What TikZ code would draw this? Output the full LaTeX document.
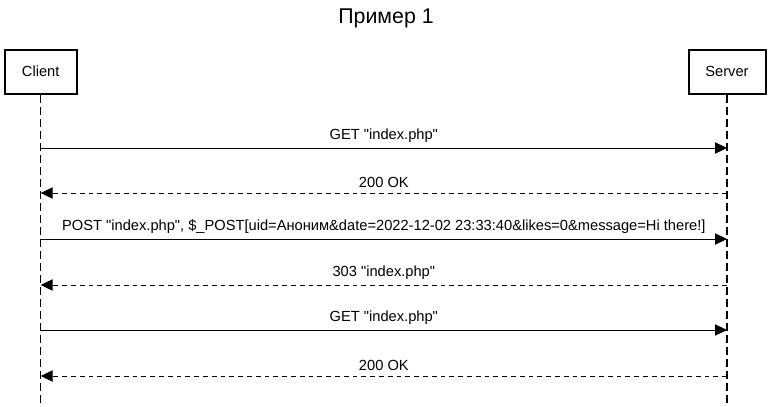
\documentclass[tikz,border=0pt]{standalone}
\usepackage{fontspec}
\setmainfont{Liberation Sans}[Ligatures=TeXOff]
\usepackage{tikz}
\usetikzlibrary{arrows.meta,positioning}
\tikzset{font=\fontsize{11}{13}\selectfont}
\newcommand{\qt}{\char"22\relax}
\tikzstyle{actor}=[draw,line width=1.5pt,minimum height=33pt,inner sep=0pt]
\tikzstyle{life}=[line width=1pt,dash pattern=on 6pt off 3pt]
\tikzstyle{call}=[line width=0.75pt,-{Triangle[length=9pt,width=8.5pt]}]
\tikzstyle{reply}=[call,dash pattern=on 3.6pt off 3pt]
\tikzstyle{msg}=[midway,above=3.4pt,inner sep=0pt]

\begin{document}
\begin{tikzpicture}[x=0.75pt,y=-0.75pt]
\useasboundingbox (0,0) rectangle (772,407);
\node (T) at (386,18) {\fontsize{16}{19}\selectfont Пример 1};
\node[actor,minimum width=54pt] (C) at (40.7,71.5) {Client};
\node[actor,minimum width=57.75pt] (S) at (727,71.5) {Server};
\coordinate (Cend) at (40.7,407);
\coordinate (Send) at (727,407);
\draw[life] (C.south) -- (Cend);
\draw[life] (S.south) -- (Send);
% message points on the lifelines
\coordinate (c1) at (40.7,148); \coordinate (s1) at (727,148);
\coordinate (c2) at (40.7,193); \coordinate (s2) at (727,193);
\coordinate (c3) at (40.7,239); \coordinate (s3) at (727,239);
\coordinate (c4) at (40.7,285); \coordinate (s4) at (727,285);
\coordinate (c5) at (40.7,330); \coordinate (s5) at (727,330);
\coordinate (c6) at (40.7,376); \coordinate (s6) at (727,376);
\draw[call] (c1) -- node[msg]{GET \qt index.php\qt} (s1);
\draw[reply] (s2) -- node[msg]{200 OK} (c2);
\draw[call] (c3) -- node[msg]{POST \qt index.php\qt, \$\_POST[uid=Аноним\&date=2022-12-02 23:33:40\&likes=0\&message=Hi there!]} (s3);
\draw[reply] (s4) -- node[msg]{303 \qt index.php\qt} (c4);
\draw[call] (c5) -- node[msg]{GET \qt index.php\qt} (s5);
\draw[reply] (s6) -- node[msg]{200 OK} (c6);
\end{tikzpicture}
\end{document}
